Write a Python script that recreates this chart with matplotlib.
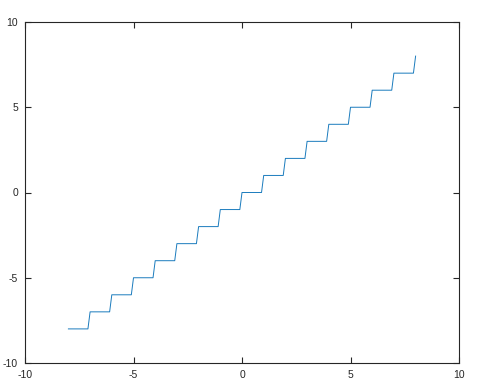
import matplotlib
matplotlib.use("Agg")
import matplotlib.pyplot as plt

# corner points of the staircase (floor of x, sampled every 0.1)
step_x = [-8, -7.1, -7, -6.1, -6, -5.1, -5, -4.1, -4, -3.1, -3, -2.1, -2, -1.1, -1, -0.1,
          0, 0.9, 1, 1.9, 2, 2.9, 3, 3.9, 4, 4.9, 5, 5.9, 6, 6.9, 7, 7.9, 8]
step_y = [-8, -8, -7, -7, -6, -6, -5, -5, -4, -4, -3, -3, -2, -2, -1, -1,
          0, 0, 1, 1, 2, 2, 3, 3, 4, 4, 5, 5, 6, 6, 7, 7, 8]
ticks = [-10, -5, 0, 5, 10]

plt.rcParams['font.family'] = ['Liberation Sans', 'DejaVu Sans']
plt.rcParams['axes.unicode_minus'] = False

fig = plt.figure(figsize=(4.86, 3.83), dpi=100)
ax = fig.add_axes([25 / 486, 1 - 363 / 383, 434 / 486, 341 / 383])
ax.plot(step_x, step_y, color='#1a7bbd', lw=0.7)

ax.set_xlim(-10, 10)
ax.set_ylim(-10, 10)
ax.set_xticks(ticks)
ax.set_yticks(ticks)
ax.tick_params(direction='in', length=4, width=0.8, labelsize=7.5,
               top=True, right=True, colors='#262626', pad=5)
for s in ax.spines.values():
    s.set_linewidth(0.8)
    s.set_color('#262626')

fig.savefig('out.png', dpi=100)
